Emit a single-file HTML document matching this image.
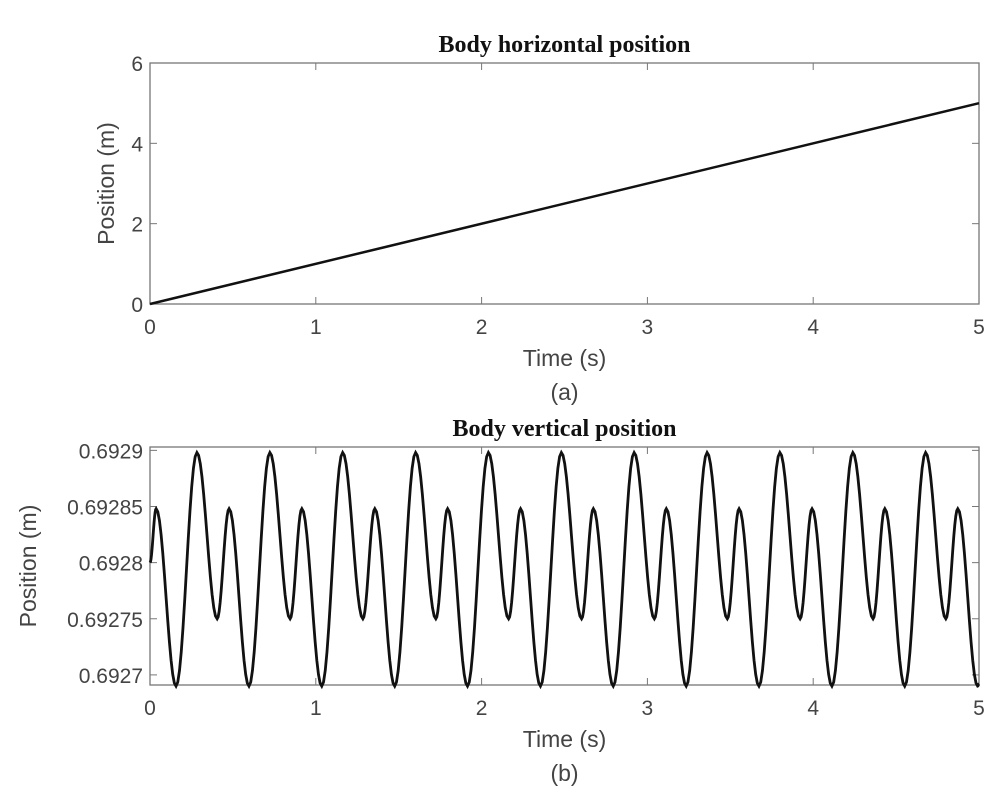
<!DOCTYPE html>
<html><head><meta charset="utf-8"><style>
body{margin:0;background:#fff;width:993px;height:807px;overflow:hidden}
svg text{font-family:"Liberation Sans",sans-serif;fill:#444;font-size:21px}
svg .ax{font-size:23px}
svg .ttl{font-family:"Liberation Serif",serif;font-weight:bold;fill:#111;font-size:24px}
</style></head><body>
<svg id="fig" width="993" height="807"></svg>
<script>
const topTimes=[0,5];
const topPos=[0,5];
const topXTicks=[0,1,2,3,4,5];
const topYTicks=[0,2,4,6];
const botExtT=[0,.037,.157,.283,.405,.477,.597,.723,.845,.916,1.036,1.162,1.284,1.356,1.476,1.602,1.724,1.795,1.915,2.041,2.163,2.235,2.355,2.481,2.603,2.674,2.794,2.920,3.042,3.114,3.234,3.360,3.482,3.553,3.673,3.799,3.921,3.993,4.113,4.239,4.361,4.432,4.552,4.678,4.800,4.872,4.992,5.0];
const botExtV=[0.69280,0.692848,0.69269,0.692898,0.69275,0.692848,0.69269,0.692898,0.69275,0.692848,0.69269,0.692898,0.69275,0.692848,0.69269,0.692898,0.69275,0.692848,0.69269,0.692898,0.69275,0.692848,0.69269,0.692898,0.69275,0.692848,0.69269,0.692898,0.69275,0.692848,0.69269,0.692898,0.69275,0.692848,0.69269,0.692898,0.69275,0.692848,0.69269,0.692898,0.69275,0.692848,0.69269,0.692898,0.69275,0.692848,0.69269,0.692692];
const botYTicks=[0.6927,0.69275,0.6928,0.69285,0.6929];
const botYLabels=["0.6927","0.69275","0.6928","0.69285","0.6929"];

const NS="http://www.w3.org/2000/svg",svg=document.getElementById('fig');
function mk(t,a,p){const e=document.createElementNS(NS,t);for(const k in a)e.setAttribute(k,a[k]);(p||svg).appendChild(e);return e;}

function axes(g,L,R,T,B,xs,ys,xt,yt,ylab,title,ytitleX,sub){
  const fr=mk('rect',{x:L,y:T,width:R-L,height:B-T,fill:'none',stroke:'#777','stroke-width':1.3},g);
  
  xt.forEach(v=>{const x=xs(v);
    mk('line',{x1:x,y1:B,x2:x,y2:B-7,stroke:'#777'},g);mk('line',{x1:x,y1:T,x2:x,y2:T+7,stroke:'#777'},g);
    const t=mk('text',{x:x,y:B+30,'text-anchor':'middle'},g);t.textContent=v;
    });
  yt.forEach((v,i)=>{const y=ys(v);
    mk('line',{x1:L,y1:y,x2:L+7,y2:y,stroke:'#777'},g);mk('line',{x1:R,y1:y,x2:R-7,y2:y,stroke:'#777'},g);
    const t=mk('text',{x:L-7,y:y+8,'text-anchor':'end'},g);t.textContent=ylab[i];
    });
  const xt2=mk('text',{x:(L+R)/2,y:B+62,'text-anchor':'middle','class':'ax'},g);xt2.textContent='Time (s)';
  
  const sb=mk('text',{x:(L+R)/2,y:B+96,'text-anchor':'middle','class':'ax'},g);sb.textContent=sub;
  
  const cy=(T+B)/2;
  const yt2=mk('text',{x:ytitleX,y:cy,'text-anchor':'middle','class':'ax',transform:`rotate(-90 ${ytitleX} ${cy})`},g);yt2.textContent='Position (m)';
  
  const tt=mk('text',{x:(L+R)/2,y:T-11,'text-anchor':'middle','class':'ttl'},g);tt.textContent=title;
  
}

const g1=mk('g',{});


const L=150,R=979;
const xs=v=>L+(R-L)*v/5;
const T1=63,B1=304,ys1=v=>B1-(B1-T1)*v/6;
axes(g1,L,R,T1,B1,xs,ys1,topXTicks,topYTicks,topYTicks.map(String),'Body horizontal position',114,'(a)');
const l1=mk('path',{d:topTimes.map((t,i)=>(i?'L':'M')+xs(t)+' '+ys1(topPos[i])).join(''),fill:'none',stroke:'#111','stroke-width':2.5},g1);



const g2=mk('g',{});


const T2=447,B2=685,vmin=0.692691,vmax=0.692903;
const ys2=v=>B2-(B2-T2)*(v-vmin)/(vmax-vmin);
axes(g2,L,R,T2,B2,xs,ys2,topXTicks,botYTicks,botYLabels,'Body vertical position',36,'(b)');
let d='M'+xs(botExtT[0])+' '+ys2(botExtV[0]);
for(let i=1;i<botExtT.length;i++){
  const t0=botExtT[i-1],t1=botExtT[i],a=botExtV[i-1],b=botExtV[i];
  for(let s=1;s<=12;s++){const u=s/12;const t=t0+(t1-t0)*u;const v=a+(b-a)*(1-Math.cos(Math.PI*u))/2;d+='L'+xs(t).toFixed(2)+' '+ys2(v).toFixed(2);}
}
const l2=mk('path',{d:d,fill:'none',stroke:'#111','stroke-width':2.8},g2);


</script>
</body></html>
